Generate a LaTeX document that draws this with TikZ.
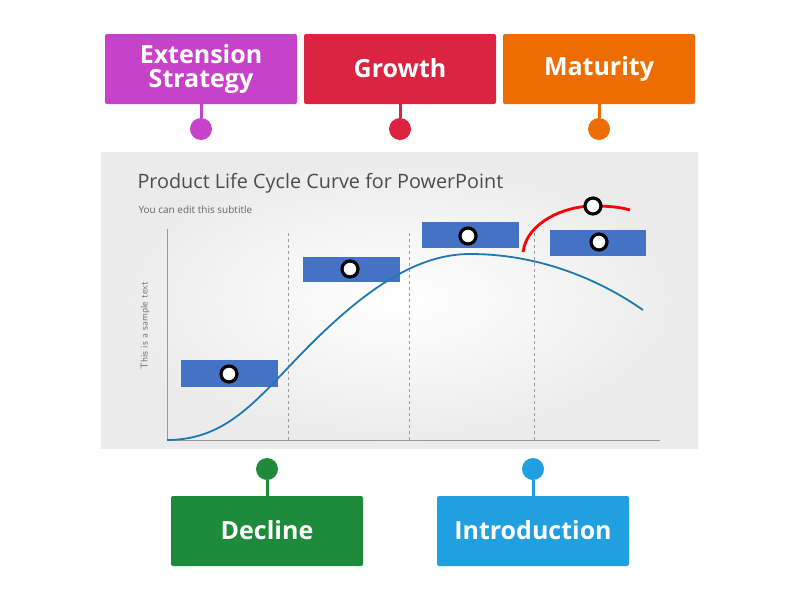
\documentclass[tikz,border=0pt]{standalone}
\usepackage{fontspec}
\setmainfont{Open Sans}
\begin{document}
\begin{tikzpicture}[x=1pt,y=-1pt,
 lbl/.style={rounded corners=2pt,minimum width=192pt,minimum height=70pt,text=white,font=\bfseries\fontsize{25}{28}\selectfont,align=center,inner sep=0},
 pin/.style={circle,minimum size=22pt,inner sep=0},
 ring/.style={circle,draw=black,line width=3.2pt,fill=white,minimum size=16pt,inner sep=0}]
\definecolor{mag}{HTML}{C643C9}\definecolor{rd}{HTML}{DC2341}\definecolor{org}{HTML}{EE6D02}
\definecolor{grn}{HTML}{1E8A3B}\definecolor{blu}{HTML}{20A0E0}\definecolor{bx}{HTML}{4472C4}
\definecolor{crv}{HTML}{1F78B0}
\useasboundingbox (0,0) rectangle (800,600);
% panel
\shade[inner color=white,outer color=black!8] (101,152) rectangle (698,448);
\node[anchor=west,text=black!70,font=\fontsize{19.8}{21}\selectfont] (t) at (134,183) {Product Life Cycle Curve for PowerPoint};
\node[anchor=west,text=black!60,font=\fontsize{10}{11}\selectfont] (st) at (135,210) {You can edit this subtitle};
\node[rotate=90,text=black!55,font=\sffamily\fontsize{10}{10}\selectfont] (yl) at (145,326) {This is a sample text};
\coordinate (o) at (167,440); \coordinate (yt) at (167,229); \coordinate (xe) at (660,440);
\draw[black!40,line width=0.8pt] (yt)--(o)--(xe);
\foreach \x in {288,409,534} \draw[black!40,dashed,line width=0.4pt] (\x,233)--(\x,440);
\foreach \a/\b/\c/\d in {181/360/278/387,303/257/400/282,422/222/519/248,550/230/646/256}
  \fill[bx] (\a,\b) rectangle (\c,\d);
\draw[crv,line width=1.8pt] (167,440) .. controls (230,440) and (260,395) .. (310,345) .. controls (370,285) and (420,254) .. (470,254) .. controls (540,254) and (600,280) .. (643,310);
\draw[red,line width=2.8pt] (523,252) .. controls (527,222) and (565,206) .. (593,206) .. controls (608,206) and (620,207) .. (630,210);
\foreach \p/\q in {229/374,350/269,468/236,599/242,593/206} \node[ring] at (\p,\q) {};
% labels
\node[lbl,fill=mag] (es) at (201,69) {Extension\\[-4pt]Strategy};
\node[lbl,fill=rd] (gr) at (400,69) {\raisebox{2pt}{Growth}};
\node[lbl,fill=org] (ma) at (599,69) {Maturity};
\node[lbl,fill=grn] (de) at (267,531) {\raisebox{2pt}{Decline}};
\node[lbl,fill=blu] (in) at (533,531) {\raisebox{2pt}{Introduction}};
\node[pin,fill=mag] (p1) at (201,129) {};
\node[pin,fill=rd] (p2) at (400,129) {};
\node[pin,fill=org] (p3) at (599,129) {};
\node[pin,fill=grn] (p4) at (267,469) {};
\node[pin,fill=blu] (p5) at (533,469) {};
\draw[mag,line width=3pt] (es.south)--(p1);
\draw[rd,line width=3pt] (gr.south)--(p2);
\draw[org,line width=3pt] (ma.south)--(p3);
\draw[grn,line width=3pt] (de.north)--(p4);
\draw[blu,line width=3pt] (in.north)--(p5);
\end{tikzpicture}
\end{document}
